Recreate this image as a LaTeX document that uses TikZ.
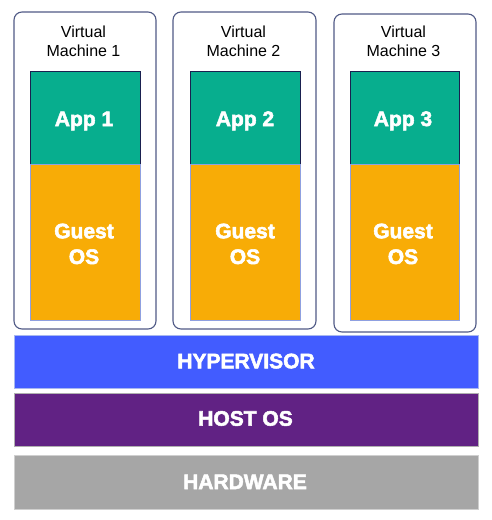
\documentclass[tikz,border=0pt]{standalone}
\usepackage{fontspec}
\setmainfont{Liberation Sans}
\newfontfamily\heavyfont[FakeBold=2.5]{Liberation Sans Bold}
\definecolor{vmborder}{HTML}{505A86}
\definecolor{appfill}{HTML}{07AE8E}
\definecolor{appline}{HTML}{1A2050}
\definecolor{osfill}{HTML}{F8AC06}
\definecolor{osline}{HTML}{8FA0E0}
\definecolor{hypfill}{HTML}{425CFF}
\definecolor{hypline}{HTML}{A8B8F0}
\definecolor{hostfill}{HTML}{612284}
\definecolor{hostline}{HTML}{B0B0B0}
\definecolor{hwfill}{HTML}{A6A6A6}
\definecolor{hwline}{HTML}{CFCFCF}
\tikzset{
  vmbox/.style={draw=vmborder, line width=1.1pt, rounded corners=8pt, fill=white, inner sep=0pt, minimum width=142pt, minimum height=317pt},
  vmlabel/.style={anchor=base, font=\fontsize{16}{18}\selectfont, text=black, inner sep=0pt},
  appbox/.style={draw=appline, line width=0.8pt, fill=appfill, inner sep=0pt, minimum width=110pt, minimum height=93pt},
  osbox/.style={draw=osline, line width=0.6pt, fill=osfill, inner sep=0pt, minimum width=110pt, minimum height=156pt},
  layer/.style={line width=1pt, inner sep=0pt, minimum width=464pt, minimum height=53pt},
  boldlabel/.style={anchor=base, inner sep=0pt, font=\fontsize{21}{24}\selectfont\heavyfont, text=white}
}
\begin{document}
\begin{tikzpicture}[x=1pt,y=-1pt]
\useasboundingbox (0,0) rectangle (491,520);
\fill[white] (0,0) rectangle (491,520);
% virtual machines
\node[vmbox] (vm1) at (85,170.5) {};
\node[vmbox, minimum width=143pt] (vm2) at (244.5,170.5) {};
\node[vmbox, minimum height=318pt] (vm3) at (405,173) {};
\node[vmlabel] (vl1a) at (83.5,37.5) {Virtual};
\node[vmlabel] (vl1b) at (83.5,56) {Machine 1};
\node[vmlabel] (vl2a) at (243.5,37.5) {Virtual};
\node[vmlabel] (vl2b) at (243.5,56) {Machine 2};
\node[vmlabel] (vl3a) at (403.5,37.5) {Virtual};
\node[vmlabel] (vl3b) at (403.5,56) {Machine 3};
% apps
\node[appbox] (app1) at (85,117.5) {};
\node[appbox] (app2) at (245,117.5) {};
\node[appbox, minimum width=109pt] (app3) at (404.5,117.5) {};
\node[boldlabel] (at1) at (84,126) {App 1};
\node[boldlabel] (at2) at (245,126) {App 2};
\node[boldlabel] (at3) at (403,126) {App 3};
% guest os
\node[osbox] (os1) at (85,242) {};
\node[osbox] (os2) at (245,242) {};
\node[osbox, minimum width=109pt] (os3) at (404.5,242) {};
\node[boldlabel] (g1a) at (84,238.3) {Guest};
\node[boldlabel] (g1b) at (84,264) {OS};
\node[boldlabel] (g2a) at (245,238.3) {Guest};
\node[boldlabel] (g2b) at (245,264) {OS};
\node[boldlabel] (g3a) at (403,238.3) {Guest};
\node[boldlabel] (g3b) at (403,264) {OS};
% layers
\node[layer, draw=hypline, fill=hypfill] (hyp) at (246.5,361.5) {};
\node[layer, draw=hostline, fill=hostfill] (host) at (246.5,419.5) {};
\node[layer, draw=hwline, fill=hwfill, minimum height=54pt] (hw) at (246.5,482) {};
\node[boldlabel] (ht) at (246,368.3) {HYPERVISOR};
\node[boldlabel] (hot) at (245.5,425.7) {HOST OS};
\node[boldlabel] (hwt) at (245,489) {HARDWARE};
\end{tikzpicture}
\end{document}
